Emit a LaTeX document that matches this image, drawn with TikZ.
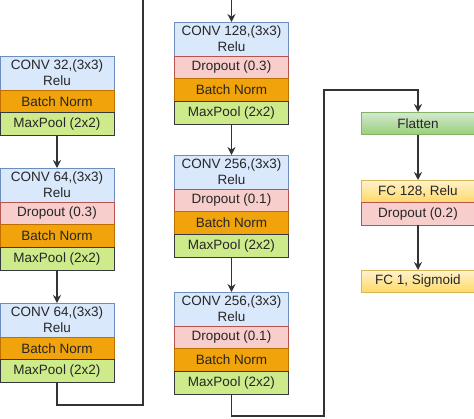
\documentclass[tikz,border=0pt]{standalone}
\usepackage{fontspec}
\setmainfont{Liberation Sans}
\usetikzlibrary{positioning,arrows.meta}
\definecolor{convfill}{HTML}{DAE8FC}
\definecolor{convline}{HTML}{6C8EBF}
\definecolor{dropfill}{HTML}{F8CECC}
\definecolor{dropline}{HTML}{B85450}
\definecolor{bnfill}{HTML}{F0A30A}
\definecolor{bnline}{HTML}{BD7000}
\definecolor{poolfill}{HTML}{CDEB8B}
\definecolor{poolline}{HTML}{36393D}
\definecolor{flattop}{HTML}{D5E8D4}
\definecolor{flatbot}{HTML}{97D077}
\definecolor{flatline}{HTML}{82B366}
\definecolor{fctop}{HTML}{FFF2CC}
\definecolor{fcbot}{HTML}{FFD966}
\definecolor{fcline}{HTML}{D6B656}
\definecolor{wirecol}{HTML}{333333}
\tikzset{
    every node/.style={font=\fontsize{13.5}{16}\selectfont,text=black!85},
    layer/.style={rectangle,draw,outer sep=0pt,inner sep=1pt,minimum width=114pt,minimum height=22.7pt,align=center,line width=0.8pt},
    conv/.style={layer,draw=convline,fill=convfill,minimum height=34pt},
    drop/.style={layer,draw=dropline,fill=dropfill},
    bnorm/.style={layer,draw=bnline,fill=bnfill},
    pool/.style={layer,draw=poolline,fill=poolfill},
    flat/.style={layer,draw=flatline,top color=flattop,bottom color=flatbot},
    fc/.style={layer,draw=fcline,top color=fctop,bottom color=fcbot},
    wire/.style={draw=wirecol,line width=1.2pt},
    flow/.style={wire,-{Stealth[length=8pt,width=8pt]}}
}
\begin{document}
\begin{tikzpicture}[x=1pt,y=-1pt]
\clip (0,0) rectangle (474,418);
% first column
\node[conv,anchor=north] (c1) at (57,56) {CONV 32,(3x3)\\Relu};
\node[bnorm,below=0pt of c1] (b1) {Batch Norm};
\node[pool,below=0pt of b1] (p1) {MaxPool (2x2)};

\node[conv,anchor=north] (c2) at (57,168) {CONV 64,(3x3)\\Relu};
\node[drop,below=0pt of c2] (d2) {Dropout (0.3)};
\node[bnorm,below=0pt of d2] (b2) {Batch Norm};
\node[pool,below=0pt of b2] (p2) {MaxPool (2x2)};

\node[conv,anchor=north] (c3) at (57,303) {CONV 64,(3x3)\\Relu};
\node[bnorm,below=0pt of c3] (b3) {Batch Norm};
\node[pool,below=0pt of b3] (p3) {MaxPool (2x2)};

% second column
\node[conv,anchor=north] (c4) at (231.5,22) {CONV 128,(3x3)\\Relu};
\node[drop,below=0pt of c4] (d4) {Dropout (0.3)};
\node[bnorm,below=0pt of d4] (b4) {Batch Norm};
\node[pool,below=0pt of b4] (p4) {MaxPool (2x2)};

\node[conv,anchor=north] (c5) at (231.5,155) {CONV 256,(3x3)\\Relu};
\node[drop,below=0pt of c5] (d5) {Dropout (0.1)};
\node[bnorm,below=0pt of d5] (b5) {Batch Norm};
\node[pool,below=0pt of b5] (p5) {MaxPool (2x2)};

\node[conv,anchor=north] (c6) at (231.5,292) {CONV 256,(3x3)\\Relu};
\node[drop,below=0pt of c6] (d6) {Dropout (0.1)};
\node[bnorm,below=0pt of d6] (b6) {Batch Norm};
\node[pool,below=0pt of b6] (p6) {MaxPool (2x2)};

% dense part
\node[flat,anchor=north] (fl) at (418,112) {Flatten};
\node[fc,anchor=north] (f1) at (418,180) {FC 128, Relu};
\node[drop,below=0pt of f1] (d7) {Dropout (0.2)};
\node[fc,anchor=north] (f2) at (418,270) {FC 1, Sigmoid};

% connectors
\coordinate (lowA) at (143,405);
\coordinate (topA) at (143,-20);
\coordinate (lowB) at (324,416);
\coordinate (topB) at (324,90);
\draw[flow] (p1) -- (c2);
\draw[flow] (p2) -- (c3);
\draw[flow] (p3.south) |- (lowA) -- (topA) -| (c4.north);
\draw[flow] (p4) -- (c5);
\draw[flow] (p5) -- (c6);
\draw[flow] (p6.south) |- (lowB) -- (topB) -| (fl.north);
\draw[flow] (fl) -- (f1);
\draw[flow] (d7) -- (f2);
\end{tikzpicture}
\end{document}
